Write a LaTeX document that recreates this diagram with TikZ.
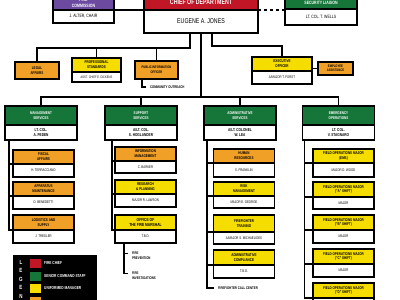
\documentclass[tikz,border=0pt]{standalone}
\usepackage{fontspec}
\newfontfamily\cf{Liberation Sans}[FakeStretch=0.75]
\usetikzlibrary{positioning}

\definecolor{fcpurple}{RGB}{108,74,160}
\definecolor{chiefred}{RGB}{192,22,38}
\definecolor{cmdgreen}{RGB}{22,118,58}
\definecolor{mgryellow}{RGB}{246,221,0}
\definecolor{mgrorange}{RGB}{240,160,38}

\tikzset{
  box/.style={draw, line width=1.3pt, outer sep=0pt, inner sep=0.5pt, align=center},
  hdr/.style={box, font=\cf\bfseries\fontsize{4}{4.9}\selectfont},
  nme/.style={box, fill=white, font=\cf\fontsize{3.8}{4.7}\selectfont},
  topfont/.style={font=\cf\bfseries\fontsize{4.7}{5.6}\selectfont},
  tierbody/.style={font=\cf\bfseries\fontsize{4.2}{5}\selectfont},
  tier/.style={minimum width=72},
  sub/.style={minimum width=61},
  link/.style={line width=1.1pt},
  lbl/.style={font=\cf\bfseries\fontsize{3.8}{5.5}\selectfont, inner xsep=4pt, inner ysep=0pt, outer sep=0pt, align=left},
  legltr/.style={text=white, font=\cf\bfseries\fontsize{6}{6}\selectfont, inner sep=0pt},
  leglbl/.style={text=white, font=\cf\bfseries\fontsize{4.3}{5}\selectfont, inner sep=0pt, anchor=west}
}

\begin{document}
\begin{tikzpicture}[x=1pt,y=-1pt]
\useasboundingbox (0,0) rectangle (400,300);
\fill[white] (0,0) rectangle (400,300);

% top row
\node[hdr, topfont, fill=fcpurple, text=white, minimum width=61, minimum height=14] (fc) at (83.5,3) {FIRE\\COMMISSION};
\node[nme, topfont, font=\cf\fontsize{4.7}{5.6}\selectfont, minimum width=61, minimum height=13, below=0pt of fc] (fcb) {J. ALTER, CHAIR};
\node[hdr, fill=chiefred, text=white, font=\cf\bfseries\fontsize{7}{8}\selectfont, minimum width=114, minimum height=16] (ch) at (201,2) {CHIEF OF DEPARTMENT};
\node[nme, font=\cf\fontsize{7}{8}\selectfont, minimum width=114, minimum height=23, below=0pt of ch] (chb) {EUGENE A. JONES};
\node[hdr, topfont, fill=cmdgreen, text=white, minimum width=72, minimum height=13] (sl) at (321,2.5) {SECURITY LIAISON};
\node[nme, font=\cf\fontsize{4.7}{5.6}\selectfont, minimum width=72, minimum height=16, below=0pt of sl] (slb) {LT. COL. T. WELLS};

\draw[link] (fcb.north east) -- (chb.north west);
\draw[link, dashed] (chb.north east) -- (chb.north east -| slb.west);

% staff
\node[hdr, fill=mgrorange, minimum width=44, minimum height=17] (la) at (37,70.5) {LEGAL\\AFFAIRS};
\node[hdr, fill=mgryellow, minimum width=49, minimum height=14] (ps) at (96.5,65) {PROFESSIONAL\\STANDARDS};
\node[nme, font=\cf\fontsize{3.5}{4}\selectfont, minimum width=49, minimum height=10, below=0pt of ps] (psb) {ASST. CHIEF E. DICKENS};
\node[hdr, fill=mgrorange, font=\cf\bfseries\fontsize{3.6}{4.6}\selectfont, minimum width=43, minimum height=18] (pio) at (156.5,70) {PUBLIC INFORMATION\\OFFICER};
\node[lbl, anchor=west] (co) at (146,87) {COMMUNITY OUTREACH};
\node[hdr, fill=mgryellow, minimum width=60, minimum height=14] (ex) at (282,64) {EXECUTIVE\\OFFICER};
\node[nme, minimum width=60, minimum height=13, below=0pt of ex] (exb) {A/MAJOR T. FORST};
\node[hdr, fill=mgrorange, font=\cf\bfseries\fontsize{3.6}{4.4}\selectfont, minimum width=35, minimum height=13] (ea) at (335.5,68.5) {EMPLOYEE\\ASSISTANCE};

\coordinate (stf) at (190,48);
\coordinate (xo) at (212,46);
\draw[link] (chb.south -| stf) -- (stf) -| (la.north);
\draw[link] (ps.north) -- (ps.north |- stf);
\draw[link] (pio.north) -- (pio.north |- stf);
\draw[link] ([xshift=7pt]pio.south west) |- (co.west);
\draw[link] (chb.south -| xo) -- (xo) -| (ex.north);
\draw[link] (ex.east |- ea) -- (ea.west);

% services
\node[hdr, tier, fill=cmdgreen, text=white, minimum height=19] (ms) at (41,115.5) {MANAGEMENT\\SERVICES};
\node[nme, tier, tierbody, minimum height=15, below=0pt of ms] (msb) {LT. COL.\\A. PEDEN};
\node[hdr, tier, fill=cmdgreen, text=white, minimum height=19] (ss) at (141,115.5) {SUPPORT\\SERVICES};
\node[nme, tier, tierbody, minimum height=15, below=0pt of ss] (ssb) {A/LT. COL.\\S. HOGLANDER};
\node[hdr, tier, fill=cmdgreen, text=white, minimum height=19] (as) at (240,115.5) {ADMINISTRATIVE\\SERVICES};
\node[nme, tier, tierbody, minimum height=15, below=0pt of as] (asb) {A/LT. COLONEL\\W. LEA};
\node[hdr, tier, fill=cmdgreen, text=white, minimum height=19] (eo) at (338.5,115.5) {EMERGENCY\\OPERATIONS};
\node[nme, tier, tierbody, minimum height=15, below=0pt of eo] (eob) {LT. COL.\\V. STAGNARO};

\coordinate (bus) at (201,97);
\draw[link] (chb.south) -- (bus);
\draw[link] (ms.north) |- (bus) -| (eo.north);
\draw[link] (ss.north) -- (ss.north |- bus);
\draw[link] (as.north) -- (as.north |- bus);

% management services
\node[hdr, sub, fill=mgrorange, minimum height=14] (ms1) at (43.5,157) {FISCAL\\AFFAIRS};
\node[nme, sub, minimum height=13, below=0pt of ms1] (ms1b) {H. TERRACCIANO};
\node[hdr, sub, fill=mgrorange, minimum height=14] (ms2) at (43.5,189) {APPARATUS\\MAINTENANCE};
\node[nme, sub, minimum height=13, below=0pt of ms2] (ms2b) {D. BENEDETTI};
\node[hdr, sub, fill=mgrorange, minimum height=15] (ms3) at (43.5,222.5) {LOGISTICS AND\\SUPPLY};
\node[nme, sub, minimum height=13, below=0pt of ms3] (ms3b) {J. TREGLER};
\draw[link] ([xshift=4pt]msb.south west) |- (ms1b.north west);
\draw[link] ([xshift=4pt]msb.south west) |- (ms2b.north west);
\draw[link] ([xshift=4pt]msb.south west) |- (ms3b.north west);

% support services
\node[hdr, sub, fill=mgrorange, minimum height=14] (ss1) at (145.5,154) {INFORMATION\\MANAGEMENT};
\node[nme, sub, minimum height=12, below=0pt of ss1] (ss1b) {C. BARKER};
\node[hdr, sub, fill=mgryellow, minimum height=14] (ss2) at (145.5,187) {RESEARCH\\\& PLANNING};
\node[nme, sub, minimum height=13, below=0pt of ss2] (ss2b) {MAJOR R. LAWSON};
\node[hdr, sub, fill=mgryellow, font=\cf\bfseries\fontsize{4.4}{5.3}\selectfont, minimum height=15] (ss3) at (145.5,222.5) {OFFICE OF\\THE FIRE MARSHAL};
\node[nme, sub, minimum height=13, below=0pt of ss3] (ss3b) {T.B.D.};
\node[lbl, anchor=north west] (fp) at (128,251.5) {FIRE\\PREVENTION};
\node[lbl, anchor=north west] (fi) at (128,271.5) {FIRE\\INVESTIGATIONS};
\draw[link] ([xshift=7pt]ssb.south west) |- (ss1b.north west);
\draw[link] ([xshift=7pt]ssb.south west) |- (ss2b.north west);
\draw[link] ([xshift=7pt]ssb.south west) |- (ss3b.north west);
\draw[link] ([xshift=9pt]ss3b.south west) |- ([yshift=-2.2pt]fp.north west);
\draw[link] ([xshift=9pt]ss3b.south west) |- ([yshift=-2.2pt]fi.north west);

% administrative services
\node[hdr, sub, fill=mgrorange, minimum height=14] (as1) at (244,156) {HUMAN\\RESOURCES};
\node[nme, sub, minimum height=14, below=0pt of as1] (as1b) {S. FRANKLIN};
\node[hdr, sub, fill=mgryellow, minimum height=14] (as2) at (244,189) {RISK\\MANAGEMENT};
\node[nme, sub, minimum height=12, below=0pt of as2] (as2b) {MAJOR E. GEORGE};
\node[hdr, sub, fill=mgryellow, minimum height=17] (as3) at (244,223.5) {FIREFIGHTER\\TRAINING};
\node[nme, sub, minimum height=12, below=0pt of as3] (as3b) {A/MAJOR S. MICHAELIDES};
\node[hdr, sub, fill=mgryellow, minimum height=15] (as4) at (244,257.5) {ADMINISTRATIVE\\COMPLIANCE};
\node[nme, sub, minimum height=13, below=0pt of as4] (as4b) {T.B.D.};
\node[lbl, anchor=west] (fcc) at (214,288) {FIREFIGHTER CALL CENTER};
\draw[link] ([xshift=3pt]asb.south west) |- (as1b.north west);
\draw[link] ([xshift=3pt]asb.south west) |- (as2b.north west);
\draw[link] ([xshift=3pt]asb.south west) |- (as3b.north west);
\draw[link] ([xshift=3pt]asb.south west) |- (as4b.north west);
\draw[link] ([xshift=3pt]asb.south west) |- (fcc.west);

% emergency operations
\node[hdr, sub, fill=mgryellow, minimum height=14] (eo1) at (343.5,156) {FIELD OPERATIONS MAJOR\\(EMS)};
\node[nme, sub, minimum height=14, below=0pt of eo1] (eo1b) {MAJOR D. WOOD};
\node[hdr, sub, fill=mgryellow, minimum height=15] (eo2) at (343.5,189.5) {FIELD OPERATIONS MAJOR\\("A" SHIFT)};
\node[nme, sub, minimum height=12, below=0pt of eo2] (eo2b) {MAJOR};
\node[hdr, sub, fill=mgryellow, minimum height=15] (eo3) at (343.5,222.5) {FIELD OPERATIONS MAJOR\\("B" SHIFT)};
\node[nme, sub, minimum height=13, below=0pt of eo3] (eo3b) {MAJOR};
\node[hdr, sub, fill=mgryellow, minimum height=15] (eo4) at (343.5,256.5) {FIELD OPERATIONS MAJOR\\("C" SHIFT)};
\node[nme, sub, minimum height=13, below=0pt of eo4] (eo4b) {MAJOR};
\node[hdr, sub, fill=mgryellow, minimum height=15] (eo5) at (343.5,290.5) {FIELD OPERATIONS MAJOR\\("D" SHIFT)};
\node[nme, sub, minimum height=13, below=0pt of eo5] (eo5b) {MAJOR};
\draw[link] ([xshift=2pt]eob.south west) |- (eo1b.north west);
\draw[link] ([xshift=2pt]eob.south west) |- (eo2b.north west);
\draw[link] ([xshift=2pt]eob.south west) |- (eo3b.north west);
\draw[link] ([xshift=2pt]eob.south west) |- (eo4b.north west);
\draw[link] ([xshift=2pt]eob.south west) |- (eo5b.north west);

% legend
\fill[black] (13,255) rectangle (97,312);
\node[legltr] (lg1) at (21,262) {L};
\node[legltr] (lg2) at (21,270.5) {E};
\node[legltr] (lg3) at (21,279) {G};
\node[legltr] (lg4) at (21,287.5) {E};
\node[legltr] (lg5) at (21,296) {N};
\fill[chiefred] (30,259) rectangle (41,268);
\fill[cmdgreen] (30,271.5) rectangle (41,280.5);
\fill[mgryellow] (30,284) rectangle (41,293);
\fill[mgrorange] (30,296.5) rectangle (41,305.5);
\node[leglbl] (lt1) at (44,263.5) {FIRE CHIEF};
\node[leglbl] (lt2) at (44,276) {SENIOR COMMAND STAFF};
\node[leglbl] (lt3) at (44,288.5) {UNIFORMED MANAGER};
\end{tikzpicture}
\end{document}
